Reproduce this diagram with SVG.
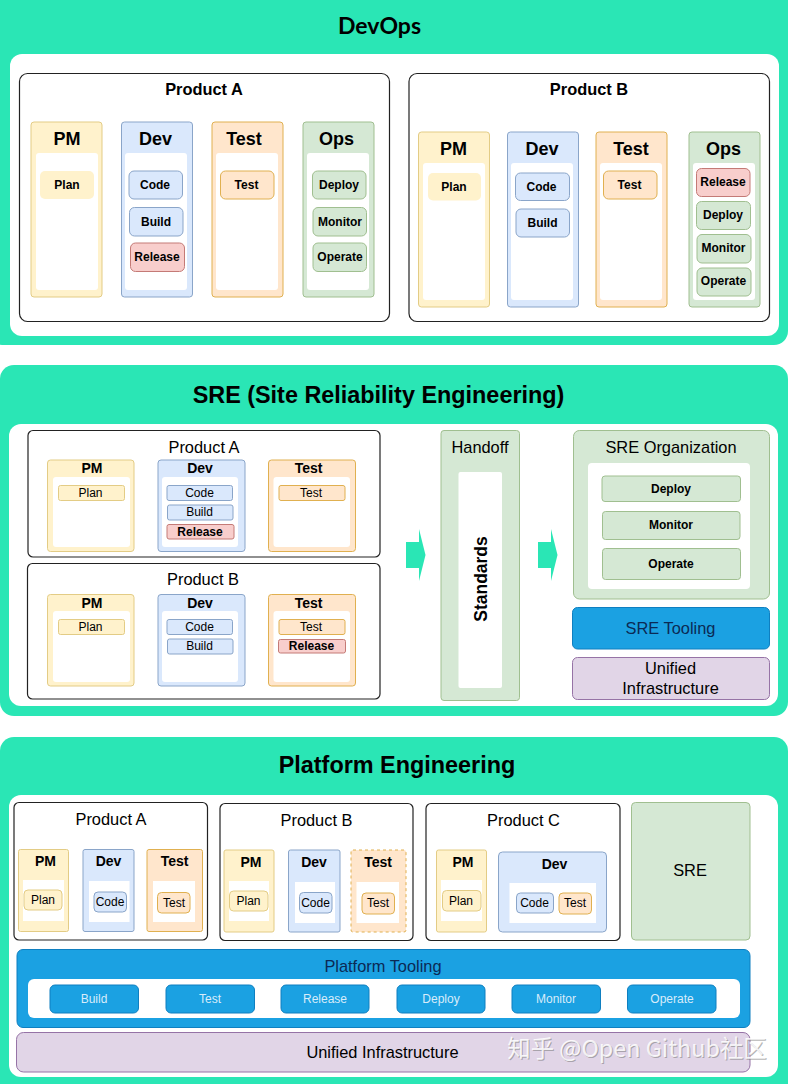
<svg xmlns="http://www.w3.org/2000/svg" width="788" height="1084" viewBox="0 0 788 1084">
<style>
text{font-family:"Liberation Sans",Arial,sans-serif;text-anchor:middle;dominant-baseline:central;fill:#000}
.bg{fill:#2ae6b5}.w{fill:#fff}
.prod{fill:#fff;stroke:#222;stroke-width:1.2}
.y{fill:#fff2cc;stroke:#e3cc85}.b{fill:#dae8fc;stroke:#8aa5c9}.o{fill:#ffe6cc;stroke:#e0b050}.g{fill:#d5e8d4;stroke:#a0bf90}.r{fill:#f8cecc;stroke:#c47a76}.p{fill:#e1d5e7;stroke:#9673a6}.t{fill:#1ba1e2;stroke:#0f7fc0}
.ns{stroke:none}.dash{stroke-dasharray:3 3}
.h1{font-size:23.4px;font-weight:700}.h2{font-size:16.4px;font-weight:700}.h3{font-size:18px;font-weight:700}.h4{font-size:14px;font-weight:700}
.i{font-size:12px;font-weight:700}.n{font-size:12px}.l{font-size:16.4px}
.dk{fill:#0b2a55}.lt{fill:#d8ecfa}
</style>

<g id="devops">
<rect class="bg" x="-12" y="-20" width="800" height="365" rx="14"/>
<text x="379.500" y="25" style="font-family:Lato,'Liberation Sans',sans-serif;font-size:23px;font-weight:700">DevOps</text>
<rect class="w" x="10" y="54" width="769" height="282" rx="12"/>
</g>
<g id="devops-product-a">
<rect class="prod" x="19.500" y="73.500" width="370" height="248" rx="8"/>
<text class="h2" x="204" y="89">Product A</text>
</g>
<g id="da-pm"><rect class="y" x="31" y="122" width="71" height="175" rx="3"/><rect class="w" x="36" y="153" width="62" height="137" rx="3"/><text class="h3" x="67" y="139">PM</text></g>
<g id="da-dev"><rect class="b" x="121.500" y="122" width="71" height="175" rx="3"/><rect class="w" x="125" y="153" width="62" height="137" rx="3"/><text class="h3" x="155.500" y="139">Dev</text></g>
<g id="da-test"><rect class="o" x="212" y="122" width="71" height="175" rx="3"/><rect class="w" x="216" y="153" width="62" height="137" rx="3"/><text class="h3" x="244" y="139">Test</text></g>
<g id="da-ops"><rect class="g" x="303" y="122" width="71" height="175" rx="3"/><rect class="w" x="307" y="153" width="62" height="137" rx="3"/><text class="h3" x="336.500" y="139">Ops</text></g>
<g id="da-plan"><rect class="y ns" x="40" y="171" width="54" height="28" rx="5"/><text class="i" x="67" y="184.500">Plan</text></g>
<g id="da-code"><rect class="b" x="129" y="171" width="53.500" height="28" rx="5"/><text class="i" x="155" y="184.500">Code</text></g>
<g id="da-build"><rect class="b" x="129.500" y="207.500" width="53.500" height="28.500" rx="5"/><text class="i" x="156" y="221.500">Build</text></g>
<g id="da-release"><rect class="r" x="130.500" y="243" width="54" height="28.500" rx="5"/><text class="i" x="157" y="256.500">Release</text></g>
<g id="da-testitem"><rect class="o" x="220.500" y="171" width="53.500" height="28" rx="5"/><text class="i" x="246.500" y="184.500">Test</text></g>
<g id="da-deploy"><rect class="g" x="312.500" y="171" width="53.500" height="28" rx="5"/><text class="i" x="339" y="184.500">Deploy</text></g>
<g id="da-monitor"><rect class="g" x="313" y="207.500" width="53.500" height="28.500" rx="5"/><text class="i" x="340" y="221.500">Monitor</text></g>
<g id="da-operate"><rect class="g" x="313" y="243" width="53.500" height="28.500" rx="5"/><text class="i" x="340" y="256.500">Operate</text></g>

<g id="devops-product-b">
<rect class="prod" x="409" y="73.500" width="360.500" height="248" rx="8"/>
<text class="h2" x="589" y="89">Product B</text>
</g>
<g id="db-pm"><rect class="y" x="418.500" y="132" width="71" height="175" rx="3"/><rect class="w" x="423" y="163" width="62" height="137" rx="3"/><text class="h3" x="453.500" y="149">PM</text></g>
<g id="db-dev"><rect class="b" x="507.500" y="132" width="71" height="175" rx="3"/><rect class="w" x="511" y="163" width="62" height="137" rx="3"/><text class="h3" x="542" y="149">Dev</text></g>
<g id="db-test"><rect class="o" x="596" y="132" width="71" height="175" rx="3"/><rect class="w" x="600" y="163" width="62" height="137" rx="3"/><text class="h3" x="631" y="149">Test</text></g>
<g id="db-ops"><rect class="g" x="689" y="132" width="71" height="175" rx="3"/><rect class="w" x="693" y="163" width="62" height="137" rx="3"/><text class="h3" x="723.500" y="149">Ops</text></g>
<g id="db-plan"><rect class="y ns" x="428" y="173" width="53" height="27.500" rx="5"/><text class="i" x="454" y="186.500">Plan</text></g>
<g id="db-code"><rect class="b" x="515.500" y="173" width="54" height="27.500" rx="5"/><text class="i" x="541.500" y="186.500">Code</text></g>
<g id="db-build"><rect class="b" x="516" y="209" width="53.500" height="28" rx="5"/><text class="i" x="542.500" y="222.500">Build</text></g>
<g id="db-testitem"><rect class="o" x="603.500" y="171" width="53.500" height="28" rx="5"/><text class="i" x="629.500" y="184.500">Test</text></g>
<g id="db-release"><rect class="r" x="696.500" y="168.500" width="53.500" height="28" rx="5"/><text class="i" x="723" y="181.500">Release</text></g>
<g id="db-deploy"><rect class="g" x="696.500" y="201.500" width="54" height="28" rx="5"/><text class="i" x="723" y="214.500">Deploy</text></g>
<g id="db-monitor"><rect class="g" x="697" y="234.500" width="54" height="28.500" rx="5"/><text class="i" x="723.500" y="247.500">Monitor</text></g>
<g id="db-operate"><rect class="g" x="697" y="268" width="54" height="28" rx="5"/><text class="i" x="723.500" y="281">Operate</text></g>

<g id="sre">
<rect class="bg" x="0" y="365" width="788" height="351" rx="14"/>
<rect class="w" x="9" y="424" width="769" height="282" rx="12"/>
<text class="h1" x="378.500" y="394.500">SRE (Site Reliability Engineering)</text>
</g>
<g id="sa"><rect class="prod" x="28" y="430.500" width="352" height="126.500" rx="5"/><text class="l" x="204" y="446.500">Product A</text></g>
<g id="sa-pm"><rect class="y" x="47.500" y="460" width="86.500" height="91.500" rx="3"/><rect class="w" x="53" y="477" width="77" height="70" rx="3"/><text class="h4" x="92" y="468">PM</text></g>
<g id="sa-dev"><rect class="b" x="158" y="460" width="87" height="91.500" rx="3"/><rect class="w" x="162" y="477" width="76" height="70" rx="3"/><text class="h4" x="200" y="468">Dev</text></g>
<g id="sa-test"><rect class="o" x="268.500" y="460" width="87" height="91.500" rx="3"/><rect class="w" x="273.500" y="477" width="76.500" height="70" rx="3"/><text class="h4" x="308.500" y="468">Test</text></g>
<g id="sa-plan"><rect class="y" x="58.500" y="485.500" width="66" height="15" rx="2"/><text class="n" x="90.500" y="492.500">Plan</text></g>
<g id="sa-code"><rect class="b" x="167" y="485.500" width="65.500" height="15" rx="2"/><text class="n" x="199.500" y="492.500">Code</text></g>
<g id="sa-build"><rect class="b" x="167.500" y="505" width="65.500" height="15" rx="2"/><text class="n" x="199.500" y="512">Build</text></g>
<g id="sa-release"><rect class="r" x="167" y="524.500" width="67" height="14.500" rx="2"/><text class="i" x="200" y="531.500">Release</text></g>
<g id="sa-testitem"><rect class="o" x="279" y="485.500" width="66" height="15" rx="2"/><text class="n" x="311" y="492.500">Test</text></g>

<g id="sb"><rect class="prod" x="27.500" y="563.500" width="352.500" height="135.500" rx="5"/><text class="l" x="203" y="579">Product B</text></g>
<g id="sb-pm"><rect class="y" x="47.500" y="594.500" width="86.500" height="91.500" rx="3"/><rect class="w" x="53" y="611" width="77" height="71" rx="3"/><text class="h4" x="92" y="602.500">PM</text></g>
<g id="sb-dev"><rect class="b" x="158" y="594.500" width="87" height="91.500" rx="3"/><rect class="w" x="162" y="611" width="76" height="71" rx="3"/><text class="h4" x="200" y="602.500">Dev</text></g>
<g id="sb-test"><rect class="o" x="268.500" y="594.500" width="87" height="91.500" rx="3"/><rect class="w" x="273.500" y="611" width="76.500" height="71" rx="3"/><text class="h4" x="308.500" y="602.500">Test</text></g>
<g id="sb-plan"><rect class="y" x="58.500" y="619.500" width="66" height="15" rx="2"/><text class="n" x="90.500" y="626.500">Plan</text></g>
<g id="sb-code"><rect class="b" x="167" y="619.500" width="65.500" height="15" rx="2"/><text class="n" x="199.500" y="626.500">Code</text></g>
<g id="sb-build"><rect class="b" x="167.500" y="639" width="65.500" height="15" rx="2"/><text class="n" x="199.500" y="646">Build</text></g>
<g id="sb-testitem"><rect class="o" x="279" y="619.500" width="66" height="15" rx="2"/><text class="n" x="311" y="626.500">Test</text></g>
<g id="sb-release"><rect class="r" x="278.500" y="639.500" width="67" height="13.500" rx="2"/><text class="i" x="311.500" y="645.500">Release</text></g>

<g id="connectors">
<path class="bg" d="M406 542H419V529L425.500 555L419 581V568H406Z"/>
<path class="bg" d="M538 542H551V529L557.500 555L551 581V568H538Z"/>
</g>

<g id="handoff"><rect class="g" x="441" y="430.500" width="78.500" height="270" rx="3"/><rect class="w" x="458.500" y="472" width="43.500" height="216" rx="2"/><text class="l" x="480" y="446.500">Handoff</text><text transform="translate(481 579) rotate(-90)" x="0" y="0" style="font-size:17.5px;font-weight:700">Standards</text></g>
<g id="sre-org"><rect class="g" x="573.500" y="430.500" width="196" height="168.500" rx="6"/><rect class="w" x="588" y="463" width="162" height="126" rx="4"/><text class="l" x="671" y="446.500">SRE Organization</text></g>
<g id="sre-deploy"><rect class="g" x="602" y="476" width="138.500" height="25.500" rx="3"/><text class="i" x="671" y="488.500">Deploy</text></g>
<g id="sre-monitor"><rect class="g" x="602.500" y="511.500" width="137.500" height="28" rx="3"/><text class="i" x="671" y="524.500">Monitor</text></g>
<g id="sre-operate"><rect class="g" x="602.500" y="548.500" width="138" height="31" rx="3"/><text class="i" x="671" y="563.500">Operate</text></g>
<g id="sre-tooling"><rect class="t" x="572.500" y="607.500" width="197" height="41.500" rx="5"/><text class="l dk" x="670.500" y="627.500">SRE Tooling</text></g>
<g id="sre-infra"><rect class="p" x="572.500" y="657.500" width="197" height="42" rx="5"/><text class="l" x="670.500" y="667.500">Unified</text><text class="l" x="670.500" y="687.500">Infrastructure</text></g>

<g id="platform">
<rect class="bg" x="0" y="737" width="788" height="360" rx="14"/>
<rect class="w" x="9" y="795" width="769" height="282" rx="12"/>
<text class="h1" x="397" y="764.500">Platform Engineering</text>
</g>
<g id="pa"><rect class="prod" x="14" y="802.500" width="193.500" height="137.500" rx="5"/><text class="l" x="111" y="818.500">Product A</text></g>
<g id="pa-pm"><rect class="y" x="18.500" y="849.500" width="50" height="82" rx="2"/><rect class="w" x="23" y="880" width="41" height="41"/><text class="h4" x="45.500" y="861">PM</text></g>
<g id="pa-dev"><rect class="b" x="83" y="849.500" width="51" height="82" rx="2"/><rect class="w" x="89" y="881" width="40.500" height="41"/><text class="h4" x="108.500" y="861">Dev</text></g>
<g id="pa-test"><rect class="o" x="147" y="849.500" width="55.500" height="82" rx="2"/><rect class="w" x="153" y="881" width="42" height="41"/><text class="h4" x="174.500" y="861">Test</text></g>
<g id="pa-plan"><rect class="y" x="24" y="890" width="38" height="20" rx="4"/><text class="n" x="43" y="899.500">Plan</text></g>
<g id="pa-code"><rect class="b" x="94" y="892" width="32.500" height="20" rx="4"/><text class="n" x="110" y="901.500">Code</text></g>
<g id="pa-testitem"><rect class="o" x="157.500" y="892.500" width="32.500" height="20.500" rx="4"/><text class="n" x="174" y="902.500">Test</text></g>

<g id="pb"><rect class="prod" x="220" y="803.500" width="193" height="137" rx="5"/><text class="l" x="316.500" y="819.500">Product B</text></g>
<g id="pb-pm"><rect class="y" x="224" y="850" width="50" height="82" rx="2"/><rect class="w" x="229" y="881" width="40" height="40"/><text class="h4" x="251" y="862">PM</text></g>
<g id="pb-dev"><rect class="b" x="288.500" y="850" width="51.500" height="82" rx="2"/><rect class="w" x="295" y="882" width="40" height="41"/><text class="h4" x="314" y="862">Dev</text></g>
<g id="pb-test"><rect class="o dash" x="351" y="850" width="55" height="82" rx="2"/><rect class="w" x="356.500" y="882" width="42.500" height="41"/><text class="h4" x="378" y="862">Test</text></g>
<g id="pb-plan"><rect class="y" x="229.500" y="891" width="38.500" height="20" rx="4"/><text class="n" x="248.500" y="900.500">Plan</text></g>
<g id="pb-code"><rect class="b" x="299.500" y="892.500" width="32.500" height="20.500" rx="4"/><text class="n" x="315.500" y="902.500">Code</text></g>
<g id="pb-testitem"><rect class="o" x="362" y="893" width="32.500" height="21" rx="4"/><text class="n" x="378" y="903">Test</text></g>

<g id="pc"><rect class="prod" x="426" y="803.500" width="194" height="137" rx="5"/><text class="l" x="523.500" y="819.500">Product C</text></g>
<g id="pc-pm"><rect class="y" x="436.500" y="850" width="50" height="82" rx="2"/><rect class="w" x="441" y="880" width="41" height="41"/><text class="h4" x="463" y="862">PM</text></g>
<g id="pc-dev"><rect class="b" x="498.500" y="852" width="108" height="80" rx="4"/><rect class="w" x="509.500" y="883" width="86.500" height="40"/><text class="h4" x="554.500" y="864">Dev</text></g>
<g id="pc-plan"><rect class="y" x="442.500" y="890.500" width="38.500" height="20.500" rx="4"/><text class="n" x="461" y="900.500">Plan</text></g>
<g id="pc-code"><rect class="b" x="516.500" y="893" width="37" height="20" rx="4"/><text class="n" x="534.500" y="902.500">Code</text></g>
<g id="pc-testitem"><rect class="o" x="559" y="893" width="32.500" height="21" rx="4"/><text class="n" x="575" y="903">Test</text></g>

<g id="p-sre"><rect class="g" x="631.500" y="802.500" width="118.500" height="137.500" rx="4"/><text class="l" x="690" y="870">SRE</text></g>
<g id="p-tooling"><rect class="t" x="17" y="949.500" width="733" height="78" rx="6"/><rect class="w" x="28" y="979" width="712" height="39" rx="6"/><text class="l dk" x="383" y="965.500">Platform Tooling</text></g>
<g id="p-build"><rect class="t" x="50" y="985" width="88.500" height="28" rx="5"/><text class="n lt" x="94" y="998.500">Build</text></g>
<g id="p-test"><rect class="t" x="166" y="985" width="88.500" height="28" rx="5"/><text class="n lt" x="210" y="998.500">Test</text></g>
<g id="p-release"><rect class="t" x="281" y="985" width="88" height="28" rx="5"/><text class="n lt" x="325" y="998.500">Release</text></g>
<g id="p-deploy"><rect class="t" x="397" y="985" width="88" height="28" rx="5"/><text class="n lt" x="441" y="998.500">Deploy</text></g>
<g id="p-monitor"><rect class="t" x="512" y="985" width="88.500" height="28" rx="5"/><text class="n lt" x="556" y="998.500">Monitor</text></g>
<g id="p-operate"><rect class="t" x="627.500" y="985" width="88.500" height="28" rx="5"/><text class="n lt" x="672" y="998.500">Operate</text></g>
<g id="p-infra"><rect class="p" x="16.500" y="1032.500" width="733.500" height="39.500" rx="7"/><text class="l" x="382.500" y="1051.500">Unified Infrastructure</text></g>

<g id="watermark">
<text x="638" y="1048" style="font-family:'Noto Sans CJK SC','Liberation Sans',sans-serif;font-size:23.400px;fill:#777;fill-opacity:.55">知乎 @Open Github社区</text>
<text x="637" y="1047" style="font-family:'Noto Sans CJK SC','Liberation Sans',sans-serif;font-size:23.400px;fill:#fff;fill-opacity:.85">知乎 @Open Github社区</text>
</g>
</svg>
